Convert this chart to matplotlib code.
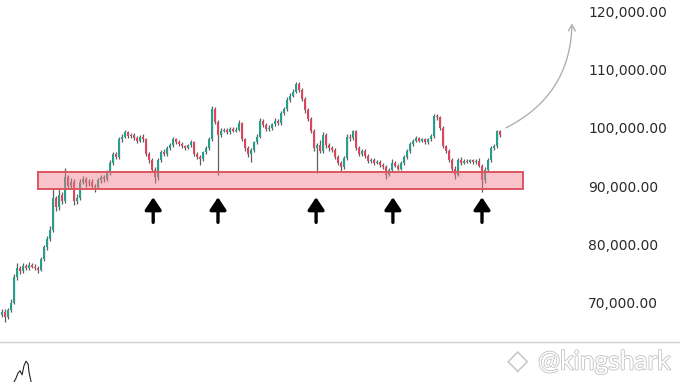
import matplotlib
matplotlib.use("Agg")
import matplotlib.pyplot as plt
import matplotlib.patheffects as pe
from matplotlib.patches import Rectangle
import numpy as np

# closes / highs / lows in thousands USD, one candle every ~3 px of the original
closes = [
    68.5, 67.5, 68.8, 70.0, 74.5, 76.0, 75.5, 76.3, 76.0, 76.5,
    76.2, 76.0, 75.7, 77.5, 79.5, 81.0, 82.5, 88.0, 86.5, 88.5,
    87.5, 91.5, 90.0, 90.8, 87.5, 88.0, 90.8, 91.2, 90.5, 90.8,
    90.0, 89.8, 91.0, 91.5, 91.2, 92.3, 94.0, 95.5, 95.0, 98.0,
    98.5, 99.2, 98.6, 98.8, 98.2, 97.8, 98.4, 98.0, 95.5, 94.5,
    92.8, 91.5, 94.5, 95.8, 95.5, 96.5, 97.0, 98.0, 97.6, 97.2,
    96.8, 96.6, 97.0, 97.6, 95.5, 95.0, 94.6, 95.8, 96.5, 98.0,
    103.2, 101.0, 98.8, 99.5, 99.6, 99.3, 99.8, 99.5, 99.7, 100.8,
    98.0, 96.5, 95.5, 96.2, 97.5, 98.5, 101.2, 100.5, 99.8, 100.0,
    100.6, 101.2, 100.8, 102.5, 103.2, 104.8, 105.5, 106.2, 107.5, 106.5,
    105.0, 103.0, 101.5, 99.5, 96.5, 97.0, 96.0, 98.8, 97.0, 96.5,
    96.2, 95.0, 94.0, 93.2, 94.8, 98.5, 98.2, 99.4, 96.5, 95.5,
    96.0, 95.2, 94.3, 94.5, 94.0, 94.2, 93.6, 93.3, 92.0, 92.8,
    94.0, 93.5, 93.0, 94.0, 95.0, 96.0, 97.2, 97.8, 98.2, 97.8,
    98.0, 97.6, 98.0, 98.6, 102.0, 101.8, 100.0, 96.8, 96.0, 94.5,
    93.0, 92.0, 94.5, 94.0, 94.3, 94.2, 94.4, 94.1, 94.3, 93.5,
    91.0, 92.8, 94.5, 96.5, 96.8, 99.4, 98.7,
]
highs = [
    69.0, 68.9, 69.2, 70.6, 75.0, 76.8, 76.4, 76.9, 76.7, 77.0,
    76.9, 76.7, 76.4, 77.9, 80.0, 81.5, 83.2, 89.5, 88.4, 89.6,
    89.0, 93.1, 91.9, 91.4, 91.2, 88.6, 91.3, 91.7, 91.6, 91.3,
    91.2, 90.4, 91.4, 91.9, 91.9, 92.7, 94.4, 95.9, 95.9, 98.4,
    98.9, 99.6, 99.5, 99.1, 99.1, 98.6, 98.8, 98.9, 98.3, 95.9,
    94.9, 93.2, 94.9, 96.2, 96.3, 96.9, 97.4, 98.4, 98.3, 97.9,
    97.5, 97.1, 97.3, 97.9, 97.8, 95.9, 95.4, 96.1, 96.9, 98.4,
    103.8, 103.5, 101.3, 99.9, 100.0, 99.9, 100.2, 100.1, 100.1, 101.3,
    101.0, 98.3, 96.9, 96.5, 97.8, 98.9, 101.7, 101.5, 100.8, 100.4,
    100.9, 101.6, 101.5, 102.8, 103.6, 105.2, 105.9, 106.6, 107.9, 107.8,
    106.8, 105.3, 103.4, 101.8, 99.8, 97.4, 97.9, 99.2, 99.1, 97.4,
    96.9, 96.5, 95.3, 94.3, 95.1, 98.9, 98.9, 99.7, 99.6, 96.8,
    96.3, 96.3, 95.5, 94.8, 94.8, 94.5, 94.5, 93.9, 93.6, 93.1,
    94.6, 94.3, 93.8, 94.3, 95.3, 96.3, 97.5, 98.1, 98.6, 98.5,
    98.3, 98.3, 98.3, 98.9, 102.4, 102.3, 102.0, 100.3, 97.1, 96.3,
    94.8, 93.4, 94.9, 95.0, 94.7, 94.6, 94.7, 94.7, 94.6, 94.9,
    93.8, 93.2, 94.9, 96.8, 97.2, 99.6, 99.7,
]
lows = [
    67.6, 66.7, 67.2, 68.5, 69.8, 74.0, 75.0, 75.2, 75.6, 75.7,
    75.9, 75.6, 75.2, 75.5, 77.1, 79.0, 80.6, 82.2, 85.8, 86.0,
    86.9, 87.2, 89.5, 89.6, 86.8, 87.0, 87.7, 90.3, 89.9, 90.1,
    89.6, 89.0, 89.5, 90.6, 90.7, 90.9, 92.0, 93.6, 94.6, 94.7,
    97.6, 98.2, 98.2, 98.3, 97.9, 97.4, 97.5, 97.6, 95.1, 93.9,
    92.4, 90.5, 91.1, 94.1, 95.1, 95.2, 96.2, 96.7, 97.2, 96.9,
    96.5, 96.2, 96.3, 96.7, 95.2, 94.6, 93.6, 94.3, 95.5, 96.2,
    97.8, 100.6, 92.0, 98.5, 99.2, 98.9, 99.0, 99.2, 99.2, 99.4,
    97.7, 96.1, 95.0, 94.1, 95.9, 97.2, 98.3, 100.1, 99.5, 99.5,
    99.7, 100.3, 100.4, 100.5, 102.2, 102.9, 104.5, 105.2, 105.9, 106.1,
    104.6, 102.6, 101.1, 99.1, 96.1, 92.2, 95.6, 95.7, 96.6, 96.1,
    95.8, 94.7, 93.6, 92.6, 92.9, 94.5, 97.8, 97.9, 96.2, 95.1,
    95.2, 94.9, 94.0, 94.0, 93.7, 93.8, 93.3, 93.0, 91.3, 91.7,
    92.5, 93.2, 92.7, 92.7, 93.7, 94.7, 95.7, 96.9, 97.5, 97.5,
    97.5, 97.3, 97.3, 97.7, 98.3, 101.3, 99.7, 96.5, 95.6, 94.1,
    92.6, 91.3, 91.7, 93.7, 93.8, 93.9, 93.9, 93.8, 93.8, 93.2,
    89.0, 90.6, 92.5, 94.2, 96.2, 96.5, 98.4,
]
first_open = 68.0

# support zone (thousands), arrows under the retests
zone_low, zone_high = 89.5, 92.4
zone_start, zone_end = 12.0, 173.7
arrow_idx = [50.4, 72.0, 104.7, 130.3, 160.0]

yticks = [70000, 80000, 90000, 100000, 110000, 120000]

# lower pane indicator fragment
ind_x = [4.0, 4.7, 5.3, 6.0, 6.7, 7.3, 8.0, 8.7, 9.0, 9.7]
ind_v = [0, 10, 22, 28, 18, 40, 52, 45, 25, 0]

c = np.array(closes) * 1000
h = np.array(highs) * 1000
l = np.array(lows) * 1000
o = np.concatenate([[first_open * 1000], c[:-1]])
x = np.arange(len(c))
up = c >= o

W, H = 680, 382
fig = plt.figure(figsize=(W / 100, H / 100), dpi=100)
fig.patch.set_facecolor("white")

x0 = -2 / 3
ax = fig.add_axes([0, 40 / H, 580 / W, 1 - 40 / H])
ax.set_xlim(x0, x0 + 580 / 3)
ax.set_ylim(63300, 121900)

up_col, dn_col = "#23a08c", "#e3435a"
ax.vlines(x, l, h, color="#5e5e5e", lw=0.9, zorder=2)
ax.bar(x[up], (c - o)[up], bottom=o[up], width=0.85, color=up_col, lw=0, zorder=3)
ax.bar(x[~up], (c - o)[~up], bottom=o[~up], width=0.85, color=dn_col, lw=0, zorder=3)

# zone
ax.add_patch(Rectangle((zone_start, zone_low * 1000), zone_end - zone_start,
                       (zone_high - zone_low) * 1000, facecolor="#f07c8a",
                       alpha=0.45, lw=0, zorder=4))
ax.add_patch(Rectangle((zone_start, zone_low * 1000), zone_end - zone_start,
                       (zone_high - zone_low) * 1000, fill=False,
                       edgecolor="#de5563", lw=1.4, zorder=5))

for xi in arrow_idx:
    ax.annotate("", xy=(xi, 88100), xytext=(xi, 83800),
                arrowprops=dict(arrowstyle="-|>,head_width=0.5,head_length=0.75",
                                color="black", lw=2.4, shrinkA=0, shrinkB=0),
                zorder=6)

# projected move
ax.annotate("", xy=(190.0, 117900), xytext=(168.0, 100000),
            arrowprops=dict(arrowstyle="->,head_width=0.25,head_length=0.45",
                            color="#b0b0b0", lw=1.0, shrinkA=0, shrinkB=0,
                            connectionstyle="arc3,rad=0.3"))

for s in ax.spines.values():
    s.set_visible(False)
ax.set_xticks([])
ax.yaxis.tick_right()
ax.set_yticks(yticks)
ax.set_yticklabels([f"{v:,.2f}" for v in yticks])
ax.tick_params(axis="y", length=0, pad=5.8, labelsize=10, labelcolor="#2a2a2a")

# lower pane
bx = fig.add_axes([0, 0, 1, 40 / H])
bx.set_xlim(x0, x0 + W / 3)
bx.set_ylim(0, 100)
bx.plot(ind_x, ind_v, color="#222222", lw=0.8)
for name, s in bx.spines.items():
    if name == "top":
        s.set_color("#cfcfcf")
        s.set_linewidth(1.0)
    else:
        s.set_visible(False)
bx.set_xticks([])
bx.set_yticks([])

# watermark
fig.text(538 / W, (H - 362) / H, "@kingshark", fontsize=19, color="white",
         va="center", ha="left", family="Lato",
         path_effects=[pe.withStroke(linewidth=1.1, foreground="#bdbdbd")])
fig.text(518 / W, (H - 361) / H, "\u25c7", fontsize=20, color="#c4c4c4",
         va="center", ha="center")

fig.savefig("out.png", dpi=100)
